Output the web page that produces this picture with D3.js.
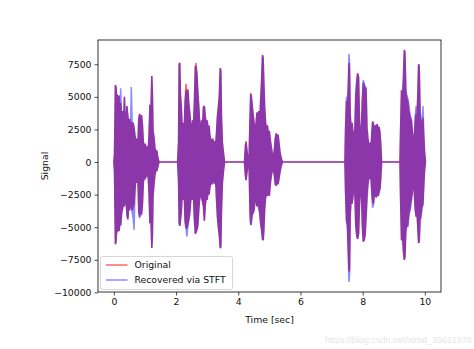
<!DOCTYPE html>
<html>
<head>
<meta charset="utf-8">
<script src="https://cdn.jsdelivr.net/npm/d3@7"></script>
<style>
  html, body { margin: 0; padding: 0; background: #fff; }
  svg { display: block; }
  text { font-family: "DejaVu Sans", sans-serif; }
</style>
</head>
<body>
<svg id="chart" width="474" height="349"></svg>
<script>
// Envelope of the waveform: time (s) with upper / lower extent of each signal.
const time = [
  0.00, 0.02, 0.05, 0.07, 0.09, 0.11, 0.14, 0.17, 0.20, 0.22, 0.25, 0.28, 0.31, 0.34, 0.36, 0.39, 0.42, 0.45, 0.48, 0.51,
  0.54, 0.56, 0.59, 0.62, 0.65, 0.68, 0.71, 0.74, 0.77, 0.80, 0.83, 0.86, 0.89, 0.92, 0.95, 0.98, 1.01, 1.04, 1.07, 1.10,
  1.13, 1.16, 1.18, 1.20, 1.22, 1.24, 1.26, 1.29, 1.32, 1.35, 1.38, 1.41, 1.45,
  2.05, 2.08, 2.10, 2.12, 2.14, 2.17, 2.20, 2.23, 2.26, 2.29, 2.32, 2.35, 2.38, 2.41, 2.44, 2.47, 2.50, 2.53, 2.56, 2.59,
  2.62, 2.64, 2.67, 2.70, 2.73, 2.76, 2.79, 2.82, 2.85, 2.88, 2.91, 2.94, 2.97, 3.00, 3.03, 3.06, 3.09, 3.12, 3.15, 3.18,
  3.21, 3.24, 3.27, 3.30, 3.33, 3.36, 3.39, 3.42, 3.44, 3.46, 3.49, 3.52, 3.56,
  4.20, 4.23, 4.25, 4.28, 4.31, 4.35, 4.38, 4.40, 4.42, 4.45, 4.48, 4.51, 4.54, 4.57, 4.60, 4.63, 4.66, 4.69, 4.72, 4.75,
  4.78, 4.80, 4.82, 4.85, 4.88, 4.91, 4.94, 4.97, 5.00, 5.03, 5.06, 5.09, 5.12, 5.16, 5.19, 5.22, 5.25, 5.28, 5.31, 5.34,
  5.38, 5.42,
  7.43, 7.45, 7.48, 7.51, 7.54, 7.56, 7.58, 7.60, 7.63, 7.66, 7.69, 7.72, 7.75, 7.78, 7.81, 7.84, 7.87, 7.90, 7.93, 7.96,
  7.99, 8.02, 8.05, 8.08, 8.11, 8.14, 8.17, 8.20, 8.23, 8.26, 8.29, 8.32, 8.35, 8.38, 8.41, 8.44, 8.47, 8.50, 8.53, 8.56,
  8.58, 8.61,
  9.20, 9.22, 9.25, 9.28, 9.31, 9.34, 9.36, 9.39, 9.42, 9.45, 9.48, 9.51, 9.54, 9.57, 9.60, 9.63, 9.66, 9.69, 9.72, 9.75,
  9.78, 9.80, 9.82, 9.85, 9.88, 9.91, 9.94, 9.97, 9.99, 10.02
];

const origHigh = [
  0, 600, 5900, 5700, 4500, 5200, 4200, 5100, 4000, 4500, 3400, 3900, 3000, 5000, 3700, 2700, 4300, 3500, 2900, 3300,
  2600, 3100, 2800, 3000, 2600, 2000, 1400, 1800, 1200, 3300, 3700, 3000, 3600, 2800, 1500, 1100, 1400, 900, 1200, 800,
  2000, 4400, 3800, 4600, 6600, 5200, 2400, 1900, 1100, 700, 900, 400, 0,
  0, 1500, 7500, 7600, 5200, 4200, 2600, 3000, 2300, 4600, 6000, 5300, 5600, 4500, 3800, 2900, 2500, 3200, 2700, 4600,
  7300, 7600, 6800, 5400, 4300, 3000, 2500, 3200, 2700, 4200, 4300, 3500, 2900, 3200, 2500, 2800, 2000, 1700, 1500, 1800,
  1300, 1600, 1200, 2200, 3500, 4200, 5000, 7200, 7000, 3500, 1500, 800, 0,
  0, 1200, 1600, 900, 300, 500, 3500, 5300, 5100, 4300, 3600, 3000, 2600, 2900, 3800, 3400, 3900, 3000, 4800, 6200,
  8200, 8000, 6300, 4200, 3000, 2500, 2800, 2000, 2400, 1700, 1200, 700, 400, 900, 1800, 2200, 1900, 2100, 1500, 800,
  300, 0,
  0, 2500, 4700, 4300, 5600, 7600, 7000, 3600, 2500, 3000, 2200, 1900, 2600, 5200, 6200, 6800, 6500, 3000, 2000, 2700,
  4800, 6100, 5900, 5500, 5700, 2600, 1800, 1200, 1500, 900, 2000, 3100, 2900, 2500, 2800, 2600, 2900, 2400, 2700, 2200,
  1500, 0,
  0, 2500, 5500, 5000, 6300, 8600, 8400, 5400, 4900, 4700, 4000, 3600, 3300, 3100, 2200, 1600, 1800, 3100, 3700, 3400,
  5600, 7500, 7300, 3300, 3100, 2700, 3400, 1800, 800, 0
];

const origLow = [
  0, -700, -6300, -6100, -5000, -5400, -4600, -5300, -4400, -4800, -3900, -3600, -3100, -3400, -3000, -2700, -4000, -4400, -3300, -3700,
  -2900, -3300, -3700, -3400, -3200, -2100, -1200, -1600, -1000, -3800, -4200, -3500, -4000, -3200, -1500, -1200, -1300, -1000, -1100, -900,
  -2300, -4700, -4200, -4900, -6600, -5600, -2600, -1700, -1000, -600, -700, -400, 0,
  0, -1400, -4700, -4900, -4500, -3800, -2400, -2900, -2200, -4500, -5000, -5100, -4800, -4400, -3900, -3000, -2600, -2900, -2500, -4400,
  -5500, -5400, -5200, -4900, -3700, -2700, -2500, -2800, -3000, -3400, -4500, -3300, -2700, -2900, -2200, -2500, -1900, -1600, -1700, -1500,
  -1400, -1700, -1200, -2800, -4200, -5000, -5600, -6600, -6500, -3800, -1600, -800, 0,
  0, -1000, -1400, -800, -300, -500, -3800, -4800, -4500, -4000, -3900, -3600, -3000, -2700, -3400, -3000, -3500, -3900, -4700, -5200,
  -5900, -6000, -5400, -3600, -2700, -2400, -2600, -1900, -2600, -1700, -1100, -700, -400, -1000, -1700, -1800, -1600, -1700, -1300, -800,
  -300, 0,
  0, -2200, -4400, -4800, -6800, -8400, -8200, -4000, -2800, -3200, -2600, -2000, -2400, -4900, -5600, -5900, -5500, -3200, -2100, -2200,
  -4800, -6100, -6000, -5600, -4200, -2500, -1700, -1100, -1300, -800, -2100, -3000, -3200, -2200, -2600, -2700, -2400, -2600, -2300, -2000,
  -1400, 0,
  0, -2800, -6000, -5600, -6800, -7500, -7300, -5200, -4800, -4900, -4000, -3700, -3100, -2900, -2300, -1600, -2200, -3600, -4200, -3900,
  -5300, -6200, -6100, -4200, -4000, -3400, -3200, -1600, -700, 0
];

const recHigh = [
  0, 600, 5900, 5700, 4500, 5200, 4200, 5100, 4000, 5650, 3400, 3900, 3000, 5000, 3700, 2700, 4300, 3500, 2900, 3300,
  2800, 5750, 3000, 3000, 2600, 2000, 1400, 1800, 1200, 3300, 3700, 3000, 3600, 2800, 1500, 1100, 1400, 900, 1200, 800,
  2000, 4400, 3800, 4600, 6600, 5200, 2400, 1900, 1100, 700, 900, 400, 0,
  0, 1500, 7500, 7600, 5200, 4200, 2600, 3000, 2300, 4600, 5500, 5300, 5500, 4500, 3800, 2900, 2500, 3200, 2700, 4600,
  7300, 7300, 6800, 5400, 4300, 3000, 2500, 3200, 2700, 4200, 4300, 3500, 3000, 3200, 2500, 2800, 2000, 1700, 1500, 1800,
  1300, 1600, 1200, 2200, 3500, 4200, 5000, 7200, 7000, 3500, 1500, 800, 0,
  0, 1200, 1500, 900, 300, 500, 3500, 5200, 5000, 4300, 3600, 3000, 2600, 2900, 3800, 3400, 3900, 3000, 4800, 6200,
  8200, 8000, 6300, 4200, 3000, 2500, 2800, 2000, 2400, 1700, 1200, 700, 400, 900, 1800, 2200, 1900, 2100, 1500, 800,
  300, 0,
  0, 2600, 5000, 4500, 6200, 8300, 7600, 3800, 2600, 3000, 2200, 1900, 2600, 5200, 6200, 6800, 6500, 3000, 2000, 2700,
  4800, 6300, 6000, 5800, 5700, 2600, 1800, 1200, 1500, 900, 2000, 3100, 2900, 2500, 2800, 2700, 2900, 2400, 2700, 2200,
  1500, 0,
  0, 2500, 5500, 5000, 6300, 8600, 8400, 5600, 5100, 4900, 4500, 3900, 3500, 3300, 2400, 1700, 1800, 3500, 4300, 3500,
  5600, 7500, 7300, 3800, 3400, 2800, 4300, 1900, 800, 0
];

const recLow = [
  0, -700, -6300, -6100, -5000, -5400, -4600, -5300, -4400, -4900, -3900, -3600, -3100, -3400, -3000, -2700, -4100, -4400, -3300, -3700,
  -3000, -3400, -3900, -4300, -5200, -2200, -1200, -1600, -1000, -3900, -4300, -3500, -4100, -3200, -1500, -1200, -1300, -1000, -1100, -900,
  -2300, -4700, -4200, -4900, -6600, -5600, -2600, -1700, -1000, -600, -700, -400, 0,
  0, -1400, -4700, -4900, -4500, -3800, -2400, -2900, -2200, -4600, -5100, -5700, -4900, -4400, -4000, -3000, -2600, -2900, -2500, -4400,
  -5500, -5400, -5200, -4900, -3700, -2700, -2500, -2800, -3000, -3400, -4500, -3300, -2700, -2900, -2200, -2500, -1900, -1600, -1700, -1500,
  -1400, -1700, -1200, -2800, -4200, -5000, -5600, -6600, -6500, -3800, -1600, -800, 0,
  0, -1000, -1400, -800, -300, -500, -4200, -4800, -4800, -4000, -3900, -3700, -3000, -2700, -3400, -3000, -3500, -3900, -4700, -5200,
  -5900, -6000, -5400, -3600, -2700, -2400, -2600, -1900, -2600, -1700, -1100, -700, -400, -1000, -1700, -1800, -1600, -1700, -1300, -800,
  -300, 0,
  0, -2300, -4600, -5000, -7400, -9200, -8600, -4200, -2900, -3200, -2600, -2000, -2400, -4900, -5700, -5900, -5500, -3200, -2100, -2200,
  -4800, -6100, -6000, -5600, -4300, -3000, -1700, -1100, -1300, -800, -2200, -3500, -3300, -2200, -2600, -2700, -2400, -2600, -2300, -2000,
  -1400, 0,
  0, -2800, -6000, -5600, -6800, -7500, -7300, -5300, -4900, -5000, -4300, -3800, -3600, -2900, -2300, -1600, -2200, -3600, -4200, -3900,
  -5300, -6200, -6100, -4300, -4300, -3500, -3300, -1600, -700, 0
];

const xTicks = [0, 2, 4, 6, 8, 10];
const yTicks = [-10000, -7500, -5000, -2500, 0, 2500, 5000, 7500];
const seriesNames = ["Original", "Recovered via STFT"];
const seriesColors = ["#ff0000", "#0000ff"];
const seriesAlpha = [0.6, 0.45];

const svg = d3.select("#chart");
const plot = { left: 98, right: 441, top: 40, bottom: 292 };

const x = d3.scaleLinear().domain([-0.51, 10.52]).range([plot.left, plot.right]);
const y = d3.scaleLinear().domain([-9970, 9360]).range([plot.bottom, plot.top]);

const series = [
  time.map((t, i) => ({ t, hi: origHigh[i], lo: origLow[i] })),
  time.map((t, i) => ({ t, hi: recHigh[i], lo: recLow[i] }))
];

const area = d3.area()
  .x(d => x(d.t))
  .y0(d => y(d.lo))
  .y1(d => y(d.hi));

svg.append("clipPath").attr("id", "plotclip")
  .append("rect")
  .attr("x", plot.left).attr("y", plot.top)
  .attr("width", plot.right - plot.left).attr("height", plot.bottom - plot.top);

// each signal is drawn in its own translucent group so the trace does not darken where it overlaps itself
const layer = svg.append("g").attr("clip-path", "url(#plotclip)");
series.forEach((s, k) => {
  layer.append("g")
    .attr("opacity", seriesAlpha[k])
    .append("path")
    .datum(s)
    .attr("d", area)
    .attr("fill", seriesColors[k])
    .attr("stroke", seriesColors[k])
    .attr("stroke-width", 1.5)
    .attr("stroke-linejoin", "miter")
    .attr("stroke-miterlimit", 2);
});

// axes
const fmt = v => (v < 0 ? "\u2212" + Math.abs(v) : String(v));
const xAxis = d3.axisBottom(x).tickValues(xTicks).tickSize(3.5).tickPadding(3).tickFormat(fmt);
const yAxis = d3.axisLeft(y).tickValues(yTicks).tickSize(3.5).tickPadding(3).tickFormat(fmt);

const gx = svg.append("g").attr("transform", `translate(0,${plot.bottom})`).call(xAxis);
const gy = svg.append("g").attr("transform", `translate(${plot.left},0)`).call(yAxis);
[gx, gy].forEach(g => {
  g.select(".domain").remove();
  g.selectAll(".tick line").attr("stroke", "#000").attr("stroke-width", 0.7);
  g.selectAll(".tick text")
    .attr("fill", "#111")
    .style("font-family", "'DejaVu Sans', sans-serif")
    .style("font-size", "9.3px");
});

svg.append("rect")
  .attr("x", plot.left).attr("y", plot.top)
  .attr("width", plot.right - plot.left).attr("height", plot.bottom - plot.top)
  .attr("fill", "none").attr("stroke", "#000").attr("stroke-width", 0.8);

svg.append("text")
  .attr("x", (plot.left + plot.right) / 2).attr("y", 323)
  .attr("text-anchor", "middle")
  .attr("fill", "#111")
  .style("font-size", "9.3px")
  .text("Time [sec]");

svg.append("text")
  .attr("transform", `translate(48,${(plot.top + plot.bottom) / 2}) rotate(-90)`)
  .attr("text-anchor", "middle")
  .attr("fill", "#111")
  .style("font-size", "9.3px")
  .text("Signal");

// legend
const lg = svg.append("g");
lg.append("rect")
  .attr("x", 100.5).attr("y", 256.5).attr("width", 132).attr("height", 33)
  .attr("rx", 2).attr("fill", "#fff").attr("fill-opacity", 0.8)
  .attr("stroke", "#ccc").attr("stroke-width", 0.8);
seriesNames.forEach((name, k) => {
  const yy = 265 + k * 15;
  lg.append("line")
    .attr("x1", 106).attr("x2", 127.5).attr("y1", yy).attr("y2", yy)
    .attr("stroke", seriesColors[k]).attr("stroke-opacity", seriesAlpha[k])
    .attr("stroke-width", 1.5);
  lg.append("text")
    .attr("x", 134.5).attr("y", yy + 3.4)
    .attr("fill", "#111")
    .style("font-size", "9.3px")
    .text(name);
});

svg.append("text")
  .attr("x", 472).attr("y", 343)
  .attr("text-anchor", "end")
  .attr("fill", "#e6e6e6")
  .style("font-family", "'Liberation Sans', Arial, sans-serif")
  .style("font-size", "9px")
  .text("https://blog.csdn.net/sinat_35621976");
</script>
</body>
</html>
